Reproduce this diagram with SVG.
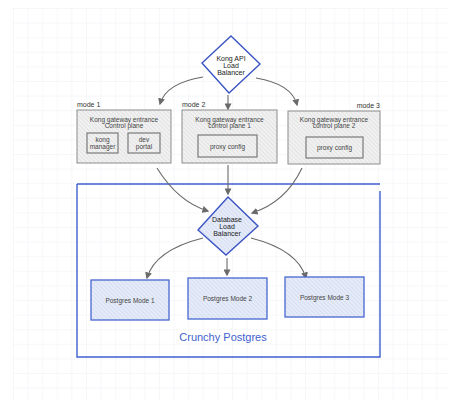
<svg xmlns="http://www.w3.org/2000/svg" width="474" height="409" viewBox="0 0 474 409">
<defs>
<pattern id="grid" x="13" y="8" width="14.6" height="14.6" patternUnits="userSpaceOnUse">
<path d="M0,0 H14.6 M0,0 V14.6" fill="none" stroke="#eef0f3" stroke-width="1"/>
</pattern>
<pattern id="hatchGray" width="3" height="3" patternUnits="userSpaceOnUse" patternTransform="rotate(-45)">
<rect width="3" height="3" fill="#f1f1f1"/>
<line x1="0" y1="0" x2="0" y2="3" stroke="#d6d6d6" stroke-width="1"/>
</pattern>
<pattern id="hatchBlue" width="3" height="3" patternUnits="userSpaceOnUse" patternTransform="rotate(-45)">
<rect width="3" height="3" fill="#e6ebf8"/>
<line x1="0" y1="0" x2="0" y2="3" stroke="#c7d1ee" stroke-width="1"/>
</pattern>
<marker id="arr" viewBox="0 0 10 10" refX="8" refY="5" markerWidth="7" markerHeight="7" markerUnits="userSpaceOnUse" orient="auto">
<path d="M0,0 L10,5 L0,10 z" fill="#6a6a6a"/>
</marker>
<style>
.t{font-family:"Liberation Sans",Arial,sans-serif;fill:#444;font-size:6.5px;text-anchor:middle}
.lbl{font-family:"Liberation Sans",Arial,sans-serif;fill:#333;font-size:7px}
.dt{font-family:"Liberation Sans",Arial,sans-serif;fill:#222;font-size:7px;text-anchor:middle}
.mode{fill:url(#hatchGray);stroke:#8c8c8c;stroke-width:1}
.inner{fill:url(#hatchGray);stroke:#7a7a7a;stroke-width:1.2}
.pg{fill:url(#hatchBlue);stroke:#4868d0;stroke-width:1.3}
.conn{fill:none;stroke:#6a6a6a;stroke-width:1.1;marker-end:url(#arr)}
</style>
</defs>
<rect width="474" height="409" fill="#ffffff"/>
<rect x="13" y="8" width="435" height="392" fill="url(#grid)"/>

<g id="container">
<path d="M77,184 H380 M380,191 V357 H77 V184" fill="none" stroke="#3f5fcf" stroke-width="1.4"/>
<text x="223" y="341" font-family="Liberation Sans,Arial,sans-serif" font-size="11" fill="#3f5fcf" text-anchor="middle">Crunchy Postgres</text>
</g>

<g id="connectors">
<path class="conn" d="M203,77 Q166,83 160,104"/>
<path class="conn" d="M228,95 L228,109"/>
<path class="conn" d="M256,78 Q292,84 297,105"/>
<path class="conn" d="M157,168 Q178,202 208,211"/>
<path class="conn" d="M228,165 L228,194"/>
<path class="conn" d="M302,168 Q286,202 252,213"/>
<path class="conn" d="M203,238 Q155,250 147,278"/>
<path class="conn" d="M227,258 L227,275"/>
<path class="conn" d="M251,238 Q298,250 306,278"/>
</g>

<g id="kong-lb">
<polygon points="231,36 260,64 229,93 202,63" fill="#ffffff" stroke="#3b55c4" stroke-width="1.4"/>
<text class="dt" x="231" y="61">Kong API</text>
<text class="dt" x="231" y="68">Load</text>
<text class="dt" x="231" y="75">Balancer</text>
</g>

<g id="mode1">
<text class="lbl" x="77" y="107">mode 1</text>
<rect class="mode" x="77" y="110" width="94" height="53"/>
<text class="t" x="124" y="122">Kong gateway entrance</text>
<text class="t" x="124" y="128">Control plane</text>
<g id="kong-manager">
<rect class="inner" x="87" y="133" width="31" height="20"/>
<text class="t" x="102.5" y="142">kong</text>
<text class="t" x="102.5" y="148.5">manager</text>
</g>
<g id="dev-portal">
<rect class="inner" x="128" y="133" width="32" height="20"/>
<text class="t" x="144" y="142">dev</text>
<text class="t" x="144" y="148.5">portal</text>
</g>
</g>

<g id="mode2">
<text class="lbl" x="182" y="107">mode 2</text>
<rect class="mode" x="182" y="110" width="95" height="53"/>
<text class="t" x="229.5" y="122">Kong gateway entrance</text>
<text class="t" x="229.5" y="128">control plane 1</text>
<rect class="inner" x="198" y="135" width="59" height="22"/>
<text class="t" x="227.5" y="148.5">proxy config</text>
</g>

<g id="mode3">
<text class="lbl" x="380" y="108" text-anchor="end">mode 3</text>
<rect class="mode" x="288" y="111" width="92" height="53"/>
<text class="t" x="334" y="122">Kong gateway entrance</text>
<text class="t" x="334" y="128">control plane 2</text>
<rect class="inner" x="306" y="137" width="57" height="21"/>
<text class="t" x="334.5" y="149.5">proxy config</text>
</g>

<g id="db-lb">
<polygon points="228,197 258,226 226,255 198,230" fill="url(#hatchBlue)" stroke="#3b55c4" stroke-width="1.4"/>
<text class="dt" x="227" y="222">Database</text>
<text class="dt" x="227" y="229">Load</text>
<text class="dt" x="227" y="236">Balancer</text>
</g>

<g id="pg1">
<rect class="pg" x="91" y="280" width="78" height="40"/>
<text class="t" x="130" y="302.5" fill="#333">Postgres Mode 1</text>
</g>
<g id="pg2">
<rect class="pg" x="188" y="278" width="79" height="41"/>
<text class="t" x="227.5" y="300.5">Postgres Mode 2</text>
</g>
<g id="pg3">
<rect class="pg" x="285" y="277" width="79" height="40"/>
<text class="t" x="324.5" y="299.5">Postgres Mode 3</text>
</g>
</svg>
